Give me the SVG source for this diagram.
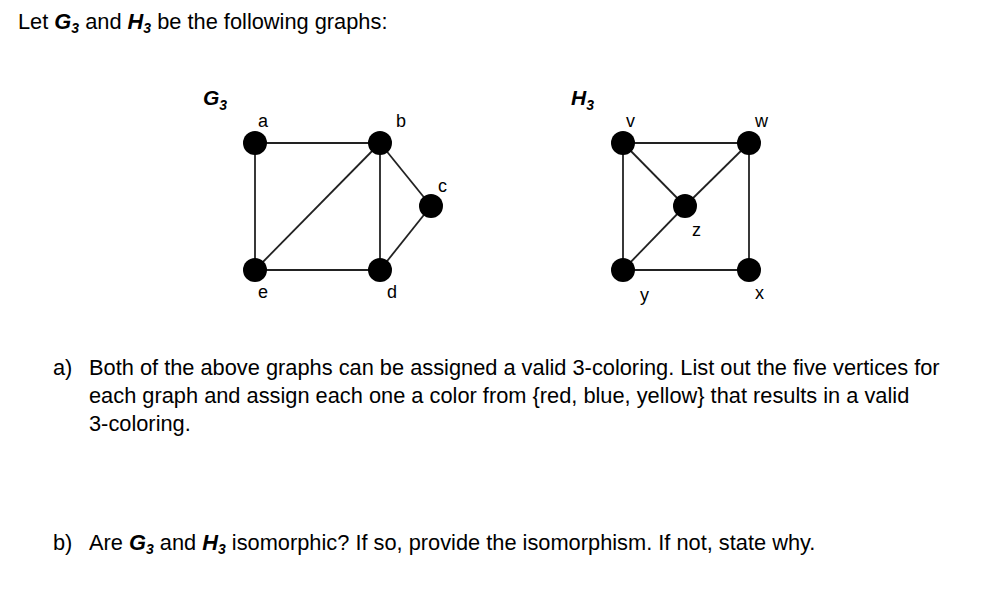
<svg xmlns="http://www.w3.org/2000/svg" width="988" height="591" viewBox="0 0 988 591">
<style>
text{font-family:"Liberation Sans",Arial,sans-serif;fill:#000}
.t{font-size:21.8px}
.l{font-size:18px}
.g{font-size:21px;font-weight:bold;font-style:italic}
.e{stroke:#222;stroke-width:1.8;fill:none}
.n{fill:#000}
</style>
<rect width="988" height="591" fill="#fff"/>
<text class="t" x="18" y="29">Let <tspan font-weight="bold" font-style="italic">G<tspan font-size="14" dy="4">3</tspan></tspan><tspan dy="-4"> and </tspan><tspan font-weight="bold" font-style="italic">H<tspan font-size="14" dy="4">3</tspan></tspan><tspan dy="-4"> be the following graphs:</tspan></text>
<g id="connectors">
<line class="e" x1="255" y1="143" x2="380" y2="143"/>
<line class="e" x1="255" y1="143" x2="255" y2="270"/>
<line class="e" x1="255" y1="270" x2="380" y2="270"/>
<line class="e" x1="255" y1="270" x2="380" y2="143"/>
<line class="e" x1="380" y1="143" x2="380" y2="270"/>
<line class="e" x1="380" y1="143" x2="431" y2="206"/>
<line class="e" x1="431" y1="206" x2="380" y2="270"/>
<line class="e" x1="623" y1="143" x2="749" y2="143"/>
<line class="e" x1="623" y1="143" x2="623" y2="270"/>
<line class="e" x1="749" y1="143" x2="749" y2="270"/>
<line class="e" x1="623" y1="270" x2="749" y2="270"/>
<line class="e" x1="623" y1="143" x2="685" y2="206"/>
<line class="e" x1="749" y1="143" x2="685" y2="206"/>
<line class="e" x1="623" y1="270" x2="685" y2="206"/>
</g>
<g id="G3label"><text class="g" x="203" y="105">G<tspan font-size="14" dy="5">3</tspan></text></g>
<g id="a"><circle class="n" cx="255" cy="143" r="12"/><text class="l" x="258" y="127">a</text></g>
<g id="b"><circle class="n" cx="380" cy="143" r="12"/><text class="l" x="396" y="127">b</text></g>
<g id="c"><circle class="n" cx="431" cy="206" r="12"/><text class="l" x="438" y="192">c</text></g>
<g id="d"><circle class="n" cx="380" cy="270" r="12"/><text class="l" x="387" y="298">d</text></g>
<g id="e"><circle class="n" cx="255" cy="270" r="12"/><text class="l" x="258" y="298">e</text></g>
<g id="H3label"><text class="g" x="571" y="105">H<tspan font-size="14" dy="5">3</tspan></text></g>
<g id="v"><circle class="n" cx="623" cy="143" r="12"/><text class="l" x="626" y="127">v</text></g>
<g id="w"><circle class="n" cx="749" cy="143" r="12"/><text class="l" x="755" y="127">w</text></g>
<g id="z"><circle class="n" cx="685" cy="206" r="12"/><text class="l" x="692" y="236">z</text></g>
<g id="y"><circle class="n" cx="623" cy="270" r="12"/><text class="l" x="640" y="301">y</text></g>
<g id="x"><circle class="n" cx="749" cy="270" r="12"/><text class="l" x="755" y="299">x</text></g>
<text class="t" x="53" y="375">a)</text>
<text class="t" x="89" y="375">Both of the above graphs can be assigned a valid 3-coloring. List out the five vertices for</text>
<text class="t" x="89" y="403">each graph and assign each one a color from {red, blue, yellow} that results in a valid</text>
<text class="t" x="89" y="431">3-coloring.</text>
<text class="t" x="53" y="550">b)</text>
<text class="t" x="89" y="550">Are <tspan font-weight="bold" font-style="italic">G<tspan font-size="14" dy="4">3</tspan></tspan><tspan dy="-4"> and </tspan><tspan font-weight="bold" font-style="italic">H<tspan font-size="14" dy="4">3</tspan></tspan><tspan dy="-4"> isomorphic? If so, provide the isomorphism. If not, state why.</tspan></text>
</svg>
